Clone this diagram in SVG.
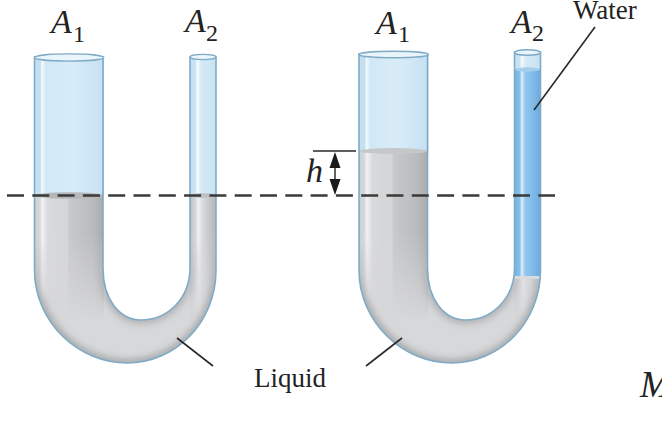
<svg xmlns="http://www.w3.org/2000/svg" width="662" height="443" viewBox="0 0 662 443">
<style>
text{font-family:"Liberation Serif",serif;fill:#222}
.i{font-style:italic;font-size:34px}
.s{font-size:24px}
.l{font-size:27px}
.lead{stroke:#2a2a2a;stroke-width:1.6;fill:none}
.edge{fill:none;stroke:#7fabc6;stroke-width:1.6}
.dash{stroke:#3a3a3a;stroke-width:2.4;stroke-dasharray:17 8.3;fill:none}
</style>
<defs>
<path id="u" d="M34.500 57V270C34.500 322 78 363 127 363C176 363 216 322 216 270V57H190V268C190 298 168 320 141 320C120 320 103 300 103 268V57Z"/>
<path id="u2" d="M34.500 54V270C34.500 322 78 363 127 363C176 363 216 322 216 270V52H190V268C190 298 168 320 141 320C120 320 103 300 103 268V54Z"/>
<clipPath id="cu"><use href="#u"/></clipPath>
<filter id="b3" x="-20%" y="-20%" width="140%" height="140%"><feGaussianBlur stdDeviation="3.500"/></filter>
<linearGradient id="glassW" gradientUnits="userSpaceOnUse" x1="34" x2="104" y1="0" y2="0">
<stop offset="0" stop-color="#c6e1f2"/><stop offset=".09" stop-color="#c2deef"/><stop offset=".11" stop-color="#f4fafd"/><stop offset=".17" stop-color="#d2e8f6"/><stop offset=".55" stop-color="#d8ecf8"/><stop offset="1" stop-color="#c6e1f3"/>
</linearGradient>
<linearGradient id="glassN" gradientUnits="userSpaceOnUse" x1="190" x2="216" y1="0" y2="0">
<stop offset="0" stop-color="#c6e1f2"/><stop offset=".2" stop-color="#c9e3f3"/><stop offset=".28" stop-color="#f6fbfe"/><stop offset=".42" stop-color="#d6eaf7"/><stop offset="1" stop-color="#c6e1f3"/>
</linearGradient>
<linearGradient id="liqW" gradientUnits="userSpaceOnUse" x1="34" x2="104" y1="0" y2="0">
<stop offset="0" stop-color="#cdcecf"/><stop offset=".08" stop-color="#d6d7d9"/><stop offset=".12" stop-color="#f2f2f3"/><stop offset=".2" stop-color="#d8d9db"/><stop offset=".48" stop-color="#d4d5d7"/><stop offset=".5" stop-color="#c8c9cb"/><stop offset=".85" stop-color="#b9babc"/><stop offset="1" stop-color="#a9aaac"/>
</linearGradient>
<linearGradient id="liqN" gradientUnits="userSpaceOnUse" x1="190" x2="216" y1="0" y2="0">
<stop offset="0" stop-color="#bebfc1"/><stop offset=".22" stop-color="#d8d9db"/><stop offset=".32" stop-color="#f0f0f1"/><stop offset=".5" stop-color="#d8d9db"/><stop offset="1" stop-color="#b4b5b7"/>
</linearGradient>
<linearGradient id="fade" gradientUnits="userSpaceOnUse" x1="0" x2="0" y1="235" y2="320">
<stop offset="0" stop-color="#fff"/><stop offset="1" stop-color="#000"/>
</linearGradient>
<linearGradient id="rise" gradientUnits="userSpaceOnUse" x1="0" x2="0" y1="240" y2="300">
<stop offset="0" stop-color="#000"/><stop offset="1" stop-color="#fff"/>
</linearGradient>
<mask id="mf" maskUnits="userSpaceOnUse" x="0" y="0" width="662" height="443"><rect width="662" height="443" fill="url(#fade)"/></mask>
<mask id="mr" maskUnits="userSpaceOnUse" x="0" y="0" width="662" height="443"><rect width="662" height="443" fill="url(#rise)"/></mask>
<linearGradient id="water" gradientUnits="userSpaceOnUse" x1="190" x2="216" y1="0" y2="0">
<stop offset="0" stop-color="#74b1e2"/><stop offset=".2" stop-color="#86bfea"/><stop offset=".28" stop-color="#dceefa"/><stop offset=".42" stop-color="#92c6ee"/><stop offset=".8" stop-color="#7ab6e6"/><stop offset="1" stop-color="#6aa9dc"/>
</linearGradient>
<g id="shade" clip-path="url(#cu)">
<use href="#u" fill="#d7d8da"/>
<g mask="url(#mf)"><rect x="34" y="120" width="70" height="220" fill="url(#liqW)"/><rect x="190" y="120" width="26" height="220" fill="url(#liqN)"/></g>
<g mask="url(#mr)">
<path d="M34.500 230V270C34.500 322 78 363 127 363C176 363 216 322 216 270V230" fill="none" stroke="#989b9e" stroke-width="6" filter="url(#b3)"/>
<path d="M190 230V268C190 298 168 320 141 320C120 320 103 300 103 268V230" fill="none" stroke="#a4a6a9" stroke-width="6" filter="url(#b3)"/>
</g>
</g>
<clipPath id="lowA"><rect x="0" y="195" width="240" height="200"/></clipPath>
<clipPath id="lowBL"><rect x="0" y="151" width="130" height="250"/><rect x="100" y="277" width="140" height="120"/></clipPath>
</defs>
<rect width="662" height="443" fill="#fff"/>

<g id="tube-left">
<rect x="34.500" y="57" width="69.500" height="140" fill="url(#glassW)"/>
<rect x="190" y="57" width="26" height="140" fill="url(#glassN)"/>
<g clip-path="url(#lowA)"><use href="#shade"/></g>
<ellipse cx="69.200" cy="195.500" rx="34" ry="3.200" fill="#b4b6b8"/>
<ellipse cx="203" cy="195.500" rx="12.500" ry="2.500" fill="#c0c2c4"/>
<use href="#u" class="edge"/>
<ellipse cx="69.200" cy="57.500" rx="34.700" ry="3.600" fill="#e9f4fb" stroke="#7fabc6" stroke-width="1.400"/>
<ellipse cx="203" cy="57" rx="13" ry="2.600" fill="#e9f4fb" stroke="#7fabc6" stroke-width="1.400"/>
</g>

<g id="tube-right" transform="translate(324.500 0)">
<rect x="34.500" y="54" width="69.500" height="100" fill="url(#glassW)"/>
<rect x="190" y="52" width="26" height="20" fill="url(#glassN)"/>
<rect x="190" y="69" width="26" height="210" fill="url(#water)"/>
<g clip-path="url(#lowBL)"><use href="#shade"/></g>
<ellipse cx="69.200" cy="151" rx="34" ry="3" fill="#c5c7c9"/>
<rect x="190.500" y="276" width="25" height="3" fill="#d8dadb"/>
<ellipse cx="203" cy="69.500" rx="12.500" ry="2.200" fill="#a5cdec"/>
<use href="#u2" class="edge"/>
<ellipse cx="69.200" cy="54.500" rx="34.700" ry="3.200" fill="#e9f4fb" stroke="#7fabc6" stroke-width="1.400"/>
<ellipse cx="203" cy="52.500" rx="13" ry="2.800" fill="#e9f4fb" stroke="#7fabc6" stroke-width="1.400"/>
</g>

<g id="connectors">
<line class="dash" x1="7" y1="195.500" x2="555" y2="195.500"/>
<line class="lead" x1="595" y1="27" x2="534" y2="110"/>
<line class="lead" x1="177" y1="338" x2="213" y2="366"/>
<line class="lead" x1="402" y1="338" x2="366" y2="366"/>
<line x1="313" y1="151" x2="356" y2="151" stroke="#2a2a2a" stroke-width="1.400"/>
<line x1="335" y1="160" x2="335" y2="187" stroke="#222" stroke-width="1.400"/>
<path d="M335 152L329.500 168H340.500ZM335 195L329.500 179H340.500Z" fill="#1a1a1a"/>
</g>

<g id="labels">
<text class="i" x="51" y="33">A</text><text class="s" x="73" y="42">1</text>
<text class="i" x="185" y="32">A</text><text class="s" x="206" y="41">2</text>
<text class="i" x="376" y="34">A</text><text class="s" x="398" y="42">1</text>
<text class="i" x="511" y="33">A</text><text class="s" x="532" y="41">2</text>
<text class="l" x="573" y="18.500">Water</text>
<text class="i" x="306" y="182">h</text>
<text class="l" x="254" y="387">Liquid</text>
<text class="i" x="640" y="397" style="font-size:37px">M</text>
</g>
</svg>
